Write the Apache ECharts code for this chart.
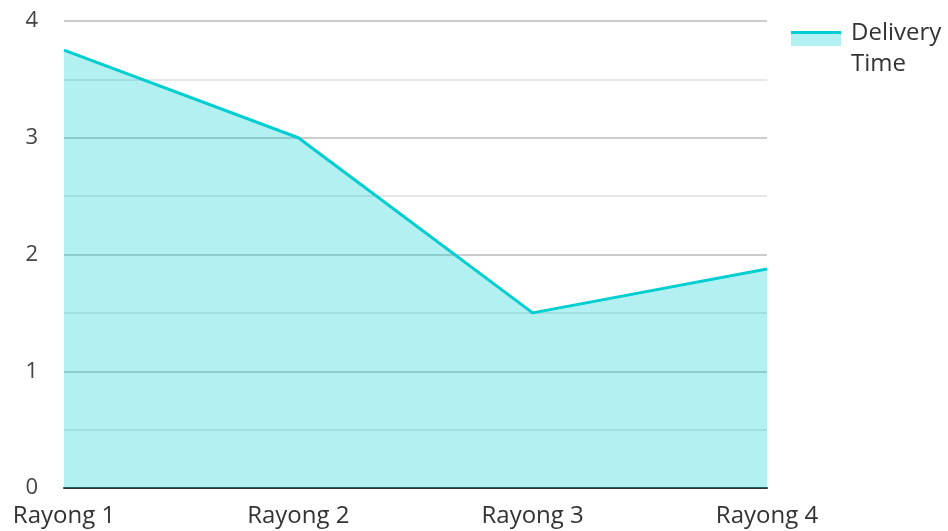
<!DOCTYPE html>
<html>
<head>
<meta charset="utf-8">
<script src="https://cdn.jsdelivr.net/npm/echarts@6/dist/echarts.min.js"></script>
<style>
    html, body { margin: 0; padding: 0; background: #fff; }
    #main { width: 948px; height: 531px; }
</style>
</head>
<body>
<div id="main"></div>
<script>
const categories = ['Rayong 1', 'Rayong 2', 'Rayong 3', 'Rayong 4']
const deliveryTime = [3.75, 3.0, 1.5, 1.875]
const yTicks = [0, 1, 2, 3, 4]
const seriesName = 'Delivery Time'

const chart = echarts.init(document.getElementById('main'))
chart.setOption({
    textStyle: { fontFamily: 'Open Sans' },
    animation: false,
    grid: { left: 64, right: 181, top: 21, bottom: 43 },
    xAxis: {
        type: 'category',
        data: categories,
        boundaryGap: false,
        axisLine: { lineStyle: { color: '#333', width: 2 } },
        axisTick: { show: false },
        axisLabel: { fontSize: 24, color: '#333', margin: 16 }
    },
    yAxis: {
        type: 'value',
        min: yTicks[0],
        max: yTicks[yTicks.length - 1],
        interval: 1,
        axisLine: { show: false },
        axisTick: { show: false },
        axisLabel: { fontSize: 22, color: '#444', margin: 26 },
        splitLine: { lineStyle: { color: '#cccccc', width: 2 } },
        minorTick: { show: false, splitNumber: 2 },
        minorSplitLine: { show: true, lineStyle: { color: '#e6e6e6', width: 2 } }
    },
    series: [{
        name: seriesName,
        type: 'line',
        data: deliveryTime,
        symbol: 'none',
        lineStyle: { color: '#00ced1', width: 3 },
        itemStyle: { color: '#00ced1' },
        areaStyle: { color: '#00ced1', opacity: 0.3 }
    }],
    // legend drawn by hand: line on top of the area swatch, text wrapped in two lines
    graphic: [{
        type: 'rect',
        left: 791,
        top: 31,
        shape: { width: 50, height: 15 },
        style: { fill: '#b2f0f1' }
    }, {
        type: 'rect',
        left: 791,
        top: 31,
        shape: { width: 50, height: 3 },
        style: { fill: '#00ced1' }
    }, {
        type: 'text',
        left: 851,
        top: 18,
        style: {
            text: 'Delivery\nTime',
            font: '24px "Open Sans"',
            fill: '#333',
            lineHeight: 31
        }
    }]
})
</script>
</body>
</html>
